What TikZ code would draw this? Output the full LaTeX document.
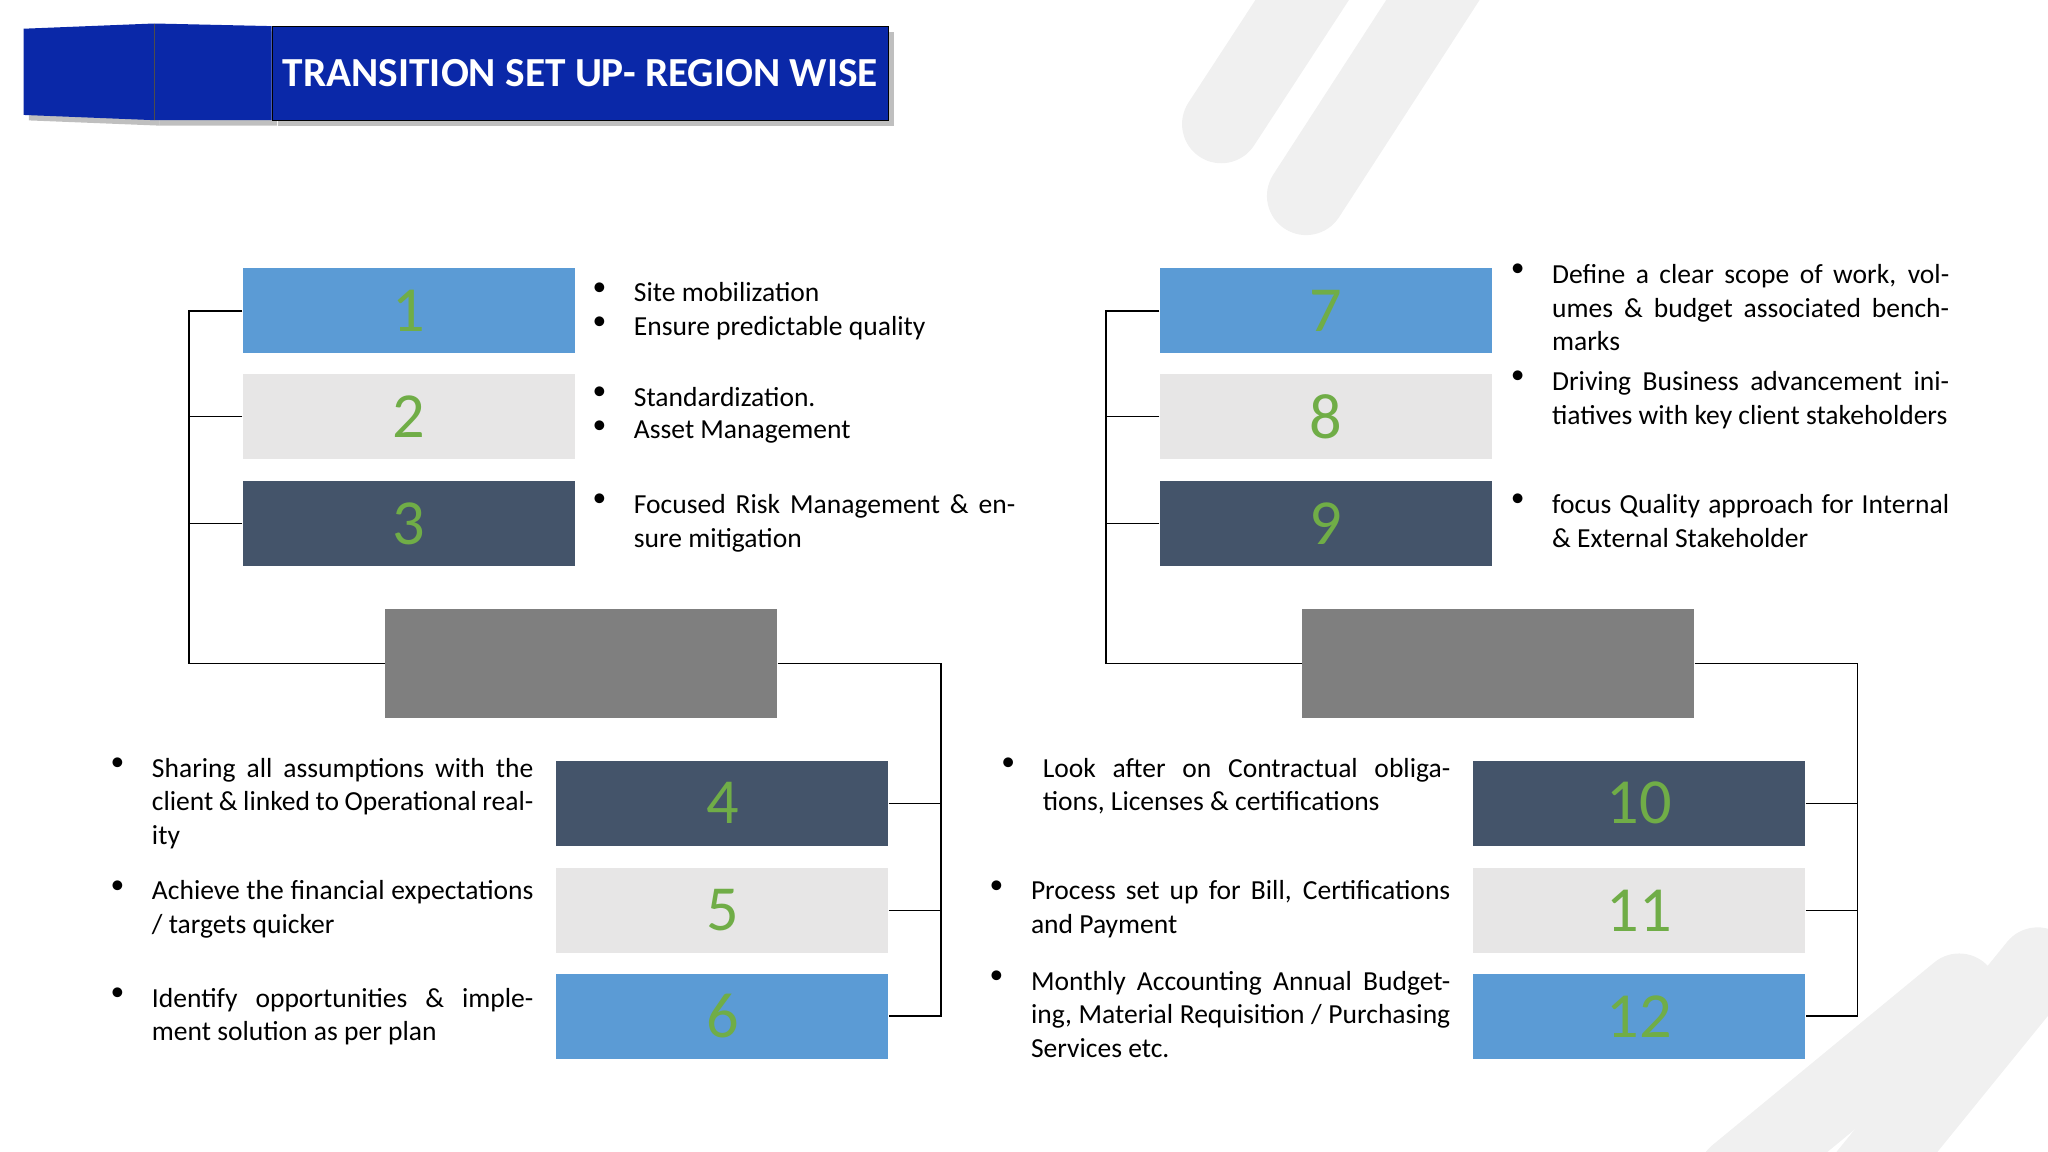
\documentclass[tikz,border=0pt]{standalone}
\usepackage{fontspec}
\setmainfont{Carlito}
\usetikzlibrary{positioning,shadows}
\definecolor{tblue}{HTML}{5B9BD5}
\definecolor{tlight}{HTML}{E7E6E6}
\definecolor{tdark}{HTML}{44546A}
\definecolor{tgreen}{HTML}{70AD47}
\definecolor{tgray}{HTML}{7F7F7F}
\definecolor{banner}{HTML}{0A28A8}
\tikzset{
  numbox/.style={minimum width=254*0.2mm, minimum height=65*0.2mm, inner sep=0pt,
    text=tgreen, font=\fontsize{28}{30}\selectfont},
  midbox/.style={fill=tgray, minimum width=300*0.2mm, minimum height=84*0.2mm, inner sep=0pt},
  txt/.style={anchor=north west, inner sep=0pt, align=justify,
    font=\fontsize{12}{14.7}\selectfont},
  bul/.style={anchor=north, inner sep=0pt, font=\fontsize{12}{14.7}\selectfont},
  link/.style={draw=black, line width=0.6pt},
  stripe/.style={line width=60*0.2mm, line cap=round, draw=black!6}
}
\begin{document}
\begin{tikzpicture}[x=0.2mm, y=-0.2mm]
\useasboundingbox (0,0) rectangle (1568,882);
% background stripes
\draw[stripe] (935,95) -- (1010,-20);
\draw[stripe] (1000,150) -- (1110,-20);
\draw[stripe] (1330,900) -- (1500,760);
\draw[stripe] (1430,900) -- (1560,740);
% banner
\fill[banner, drop shadow] (18,22) -- (118,18) -- (118,92) -- (18,88) -- cycle;
\fill[banner, drop shadow] (118,18) -- (208,20) -- (208,92) -- (118,92) -- cycle;
\draw[black!70] (118,18) -- (118,92);
\node[fill=banner, draw=black, drop shadow, minimum width=472*0.2mm, minimum height=72*0.2mm,
  anchor=north west, text=white, font=\fontsize{18}{20}\selectfont\bfseries] (title) at (208,20)
  {TRANSITION SET UP- REGION WISE};
% left group
\node[numbox, fill=tblue]  (b1) at (313,238) {1};
\node[numbox, fill=tlight] (b2) at (313,319) {2};
\node[numbox, fill=tdark]  (b3) at (313,401) {3};
\node[midbox] (g1) at (445,508) {};
\node[numbox, fill=tdark]  (b4) at (553,615) {4};
\node[numbox, fill=tlight] (b5) at (553,697) {5};
\node[numbox, fill=tblue]  (b6) at (553,778) {6};
\draw[link] (b1.west) -- ++(-41,0) coordinate (lbus) |- (g1.west);
\draw[link] (b2.west) -- (b2.west -| lbus);
\draw[link] (b3.west) -- (b3.west -| lbus);
\draw[link] (g1.east) -- ++(125,0) coordinate (rbus) |- (b6.east);
\draw[link] (b4.east) -- (b4.east -| rbus);
\draw[link] (b5.east) -- (b5.east -| rbus);
% right group
\node[numbox, fill=tblue]  (b7) at (1015,238) {7};
\node[numbox, fill=tlight] (b8) at (1015,319) {8};
\node[numbox, fill=tdark]  (b9) at (1015,401) {9};
\node[midbox] (g2) at (1147,508) {};
\node[numbox, fill=tdark]  (b10) at (1255,615) {10};
\node[numbox, fill=tlight] (b11) at (1255,697) {11};
\node[numbox, fill=tblue]  (b12) at (1255,778) {12};
\draw[link] (b7.west) -- ++(-41,0) coordinate (lbus2) |- (g2.west);
\draw[link] (b8.west) -- (b8.west -| lbus2);
\draw[link] (b9.west) -- (b9.west -| lbus2);
\draw[link] (g2.east) -- ++(125,0) coordinate (rbus2) |- (b12.east);
\draw[link] (b10.east) -- (b10.east -| rbus2);
\draw[link] (b11.east) -- (b11.east -| rbus2);
% texts top left
\node[bul] (u1) at (459,216) {•};
\node[txt, text width=292*0.2mm] (t1) at (485,216) {Site mobilization};
\node[bul] (u2) at (459,242) {•};
\node[txt, text width=292*0.2mm] (t2) at (485,242) {Ensure predictable quality};
\node[bul] (u3) at (459,296) {•};
\node[txt, text width=292*0.2mm] (t3) at (485,296) {Standardization.};
\node[bul] (u4) at (459,322) {•};
\node[txt, text width=292*0.2mm] (t4) at (485,322) {Asset Management};
\node[bul] (u5) at (459,378) {•};
\node[txt, text width=292*0.2mm] (t5) at (485,378) {Focused Risk Management \& ensure mitigation};
% texts top right
\node[bul] (u7) at (1162,202) {•};
\node[txt, text width=304*0.2mm] (t7) at (1188,202) {Define a clear scope of work, volumes \& budget associated benchmarks};
\node[bul] (u8) at (1162,284) {•};
\node[txt, text width=304*0.2mm] (t8) at (1188,284) {Driving Business advancement initiatives with key client stakeholders};
\node[bul] (u9) at (1162,378) {•};
\node[txt, text width=304*0.2mm] (t9) at (1188,378) {focus Quality approach for Internal \& External Stakeholder};
% texts bottom left
\node[bul] (u10) at (90,580) {•};
\node[txt, text width=292*0.2mm] (t10) at (116,580) {Sharing all assumptions with the client \& linked to Operational reality};
\node[bul] (u11) at (90,674) {•};
\node[txt, text width=292*0.2mm] (t11) at (116,674) {Achieve the financial expectations / targets quicker};
\node[bul] (u12) at (90,756) {•};
\node[txt, text width=292*0.2mm] (t12) at (116,756) {Identify opportunities \& implement solution as per plan};
% texts bottom right
\node[bul] (u13) at (772,580) {•};
\node[txt, text width=312*0.2mm] (t13) at (798,580) {Look after on Contractual obligations, Licenses \& certifications};
\node[bul] (u14) at (763,674) {•};
\node[txt, text width=321*0.2mm] (t14) at (789,674) {Process set up for Bill, Certifications and Payment};
\node[bul] (u15) at (763,743) {•};
\node[txt, text width=321*0.2mm] (t15) at (789,743) {Monthly Accounting Annual Budgeting, Material Requisition / Purchasing Services etc.};
\end{tikzpicture}
\end{document}
